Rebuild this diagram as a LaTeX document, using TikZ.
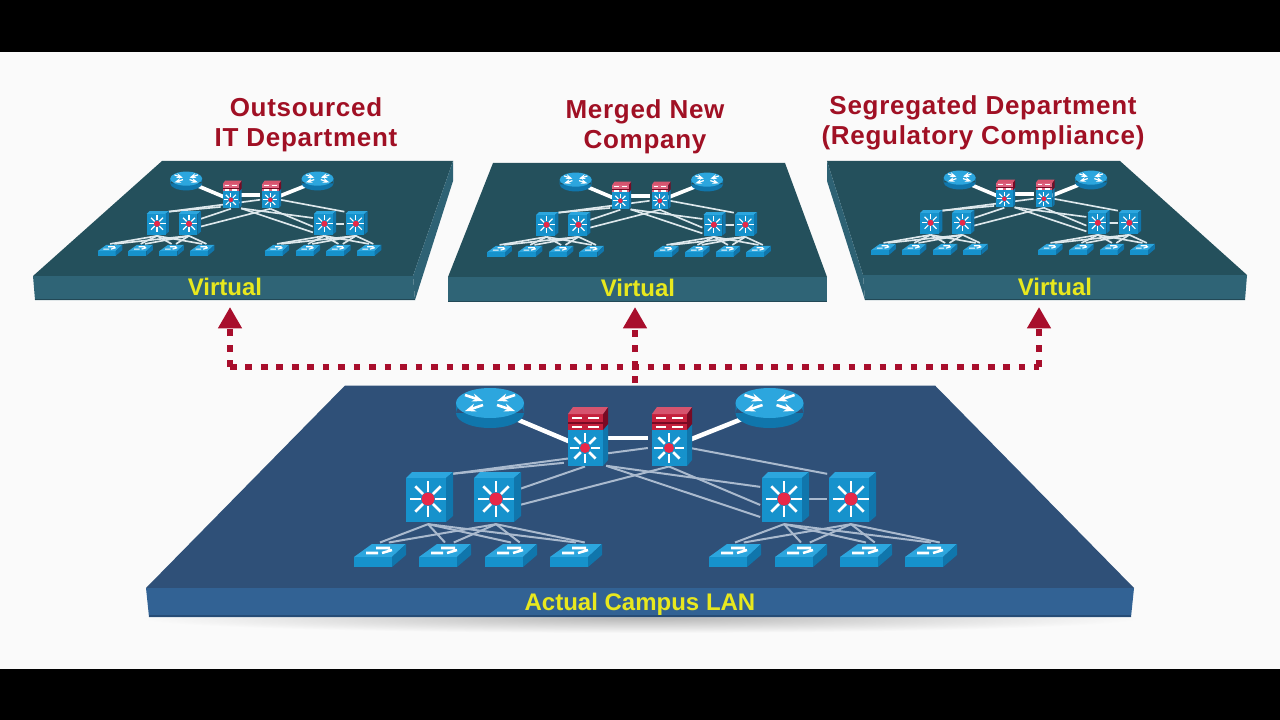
\documentclass[tikz,border=0pt]{standalone}
\usepackage{fontspec}
\setmainfont{Liberation Sans}
\usetikzlibrary{arrows.meta}

\definecolor{titlered}{RGB}{160,16,36}
\definecolor{dotred}{RGB}{168,14,44}
\definecolor{labelyellow}{RGB}{232,232,30}
\definecolor{bigtop}{RGB}{47,80,120}
\definecolor{bigfront}{RGB}{50,98,148}
\definecolor{bigedge}{RGB}{38,76,118}
\definecolor{vtop}{RGB}{36,80,92}
\definecolor{vfront}{RGB}{47,100,118}
\definecolor{vedge}{RGB}{34,72,86}
\definecolor{devtop}{RGB}{44,166,222}
\definecolor{devfront}{RGB}{22,146,204}
\definecolor{devside}{RGB}{16,118,172}
\definecolor{fwtop}{RGB}{214,84,110}
\definecolor{fwdark}{RGB}{120,10,36}
\definecolor{hubred}{RGB}{232,40,72}
\definecolor{biglink}{RGB}{170,186,206}
\definecolor{vlink}{RGB}{222,232,236}
\definecolor{bigwall}{RGB}{196,32,60}
\definecolor{vwall}{RGB}{222,100,128}

\tikzset{every picture/.style={line width=0.75pt}}
\tikzset{
	routerbox/.style={inner sep=0pt,minimum width=\ds*51pt,minimum height=\ds*30pt},
	corebox/.style={inner sep=0pt,minimum width=\ds*31pt,minimum height=\ds*27pt},
	distbox/.style={inner sep=0pt,minimum width=\ds*35pt,minimum height=\ds*37pt},
	accessbox/.style={inner sep=0pt,minimum width=\ds*39pt,minimum height=\ds*18pt},
	lanlink/.style={draw=\linkcol,line width=1pt+\ds*0.5pt},
	uplink/.style={draw=white,line width=2.2pt+\ds*1.2pt},
	spoke/.style={draw=white,line width=\ds*1.9pt},
	dotline/.style={draw=dotred,line width=5pt,dash pattern=on 5pt off 6.6pt},
	dothead/.style={-{Triangle[length=16pt,width=17pt]}},
	place/.style={font=\fontsize{18}{21}\selectfont\bfseries,text=labelyellow},
	headline/.style={font=\fontsize{19.5}{22.5}\selectfont\bfseries\addfontfeature{LetterSpace=2.8},text=titlered,align=center},
	routericon/.pic={
		\fill[devside] (-34,-5) rectangle (34,5) (0,5) ellipse [x radius=34,y radius=15];
		\fill[devtop] (0,-5) ellipse [x radius=34,y radius=15];
		\draw[spoke,-{Stealth[scale=.7]}] (-25,-13) -- (-7,-7);
		\draw[spoke,-{Stealth[scale=.7]}] (25,-13) -- (7,-7);
		\draw[spoke,-{Stealth[scale=.7]}] (-7,-3) -- (-25,3);
		\draw[spoke,-{Stealth[scale=.7]}] (7,-3) -- (25,3);
	},
	coreicon/.pic={
		\fill[devside] (18,-18) -- (23,-24) -- (23,12) -- (18,18) -- cycle;
		\fill[devfront] (-17,-18) rectangle (18,18);
		\foreach \ang in {0,45,...,315} \draw[spoke] (\ang:6) -- (\ang:15);
		\fill[hubred] (0,0) circle (5);
		% firewall on top
		\fill[fwdark] (18,-18) -- (23,-24) -- (23,-41) -- (18,-34) -- cycle;
		\fill[\fwcol] (-17,-18) rectangle (18,-34);
		\fill[fwtop] (-17,-34) -- (18,-34) -- (23,-41) -- (-12,-41) -- cycle;
		\draw[fwdark,line width=\ds*1.5pt] (-17,-25) -- (18,-25);
		\draw[spoke] (-13,-30) -- (-3,-30) (3,-30) -- (14,-30) (-13,-21) -- (-3,-21) (3,-21) -- (14,-21);
	},
	disticon/.pic={
		\fill[devtop] (-22,-21) -- (18,-21) -- (25,-27) -- (-16,-27) -- cycle;
		\fill[devside] (18,-21) -- (25,-27) -- (25,17) -- (18,23) -- cycle;
		\fill[devfront] (-22,-21) rectangle (18,23);
		\foreach \ang in {0,45,...,315} \draw[spoke] (\ang:7) -- (\ang:18);
		\fill[hubred] (0,0) circle (6.5);
	},
	accessicon/.pic={
		\fill[devtop] (-26,2) -- (-8,-11) -- (26,-11) -- (12,2) -- cycle;
		\fill[devfront] (-26,2) rectangle (12,12);
		\fill[devside] (12,2) -- (26,-11) -- (26,0) -- (12,12) -- cycle;
		\draw[spoke] (-14,-2) -- (-2,-2) (-4,-7) -- (10,-7) (2,-2) -- (12,-5);
	},
}

% name, origin x, origin y, scale, access shift, link colour, firewall colour
\newcommand{\campusnet}[7]{%
	\begin{scope}[shift={(#2,#3)},scale=#4]
		\def\ds{#4}\def\linkcol{#6}\def\fwcol{#7}
		\node[routerbox] (#1r1) at (-140,0) {};
		\node[routerbox] (#1r2) at (139.5,0) {};
		\node[corebox] (#1c1) at (-45,40) {};
		\node[corebox] (#1c2) at (39,40) {};
		\node[distbox] (#1d1) at (-202,91) {};
		\node[distbox] (#1d2) at (-134,91) {};
		\node[distbox] (#1d3) at (154,91) {};
		\node[distbox] (#1d4) at (221,91) {};
		\foreach \an/\ax in {a1/-250,a2/-185,a3/-119,a4/-54,a5/105,a6/171,a7/236,a8/301}
			\node[accessbox] (#1\an) at (\ax+#5,147) {};
		%Links to the access layer
		\foreach \an in {a1,a2,a3,a4} {
			\draw[lanlink] (#1d1.south) -- (#1\an.north);
			\draw[lanlink] (#1d2.south) -- (#1\an.55);
		}
		\foreach \an in {a5,a6,a7,a8} {
			\draw[lanlink] (#1d3.south) -- (#1\an.north);
			\draw[lanlink] (#1d4.south) -- (#1\an.55);
		}
		%Links to the core
		\draw[lanlink] (#1d1.north east) -- (#1c1.215);
		\draw[lanlink] (#1d1.north east) -- (#1c2.west);
		\draw[lanlink] (#1d2.23) -- (#1c1.south);
		\draw[lanlink] (#1d2.346) -- (#1c2.south);
		\draw[lanlink] (#1c1.320) -- (#1d3.153);
		\draw[lanlink] (#1c1.320) -- (#1d3.217);
		\draw[lanlink] (#1c2.south) -- (#1d3.194);
		\draw[lanlink] (#1c2.east) -- (#1d4.north west);
		\draw[lanlink] (#1d3.east) -- (#1d4.west);
		%Thick links
		\draw[uplink] (#1r1.center) -- (#1c1.center);
		\draw[uplink] (#1r2.center) -- (#1c2.center);
		\draw[uplink] (#1c1.25) -- (#1c2.155);
		%Devices
		\pic[transform shape] at (#1r1) {routericon};
		\pic[transform shape] at (#1r2) {routericon};
		\pic[transform shape] at (#1c1) {coreicon};
		\pic[transform shape] at (#1c2) {coreicon};
		\foreach \dn in {d1,d2,d3,d4} \pic[transform shape] at (#1\dn) {disticon};
		\foreach \an in {a1,a2,a3,a4,a5,a6,a7,a8} \pic[transform shape] at (#1\an) {accessicon};
	\end{scope}%
}

\begin{document}
\begin{tikzpicture}[x=0.75pt,y=0.75pt,yscale=-1,xscale=1]
	\useasboundingbox (0,0) rectangle (1280,720);

	%Shape: Rectangle, page and bars
	\fill[black] (0,0) rectangle (1280,720);
	\fill[white!98!black] (0,52) rectangle (1280,669);

	%Shape: Ellipse, shadow under the big slab
	\shade[inner color=black!28,outer color=white!98!black] (640,618) ellipse [x radius=500,y radius=15];

	%Shape: big slab
	\fill[bigtop] (345,385.5) -- (935,385.5) -- (1134,588) -- (146,588) -- cycle;
	\fill[bigfront] (146,588) -- (1134,588) -- (1131,617) -- (149,617) -- cycle;
	\draw[bigedge,line width=1.2pt] (149,616) -- (1131,616);

	%Shape: left slab
	\fill[vtop] (162,161) -- (453,161) -- (413,276) -- (33,276) -- cycle;
	\fill[vfront!90!vtop] (413,276) -- (453,161) -- (453,181) -- (415,300) -- cycle;
	\fill[vfront] (33,276) -- (413,276) -- (415,300) -- (35,300) -- cycle;
	\draw[vedge,line width=1.2pt] (35,299.5) -- (415,299.5);

	%Shape: middle slab
	\fill[vtop] (493,163) -- (785,163) -- (827,277) -- (448,277) -- cycle;
	\fill[vfront] (448,277) -- (827,277) -- (827,302) -- (448,302) -- cycle;
	\draw[vedge,line width=1.2pt] (448,301.5) -- (827,301.5);

	%Shape: right slab
	\fill[vtop] (827,161) -- (1120,161) -- (1247,275) -- (863,275) -- cycle;
	\fill[vfront!90!vtop] (827,161) -- (863,275) -- (865,300) -- (827,181) -- cycle;
	\fill[vfront] (863,275) -- (1247,275) -- (1245,300) -- (865,300) -- cycle;
	\draw[vedge,line width=1.2pt] (865,299.5) -- (1245,299.5);

	%The four networks
	\campusnet{big}{630}{408}{1}{0}{biglink}{bigwall}
	\campusnet{la}{252}{181}{0.47}{-52}{vlink}{vwall}
	\campusnet{mi}{641.5}{182}{0.47}{-52}{vlink}{vwall}
	\campusnet{ri}{1025.5}{180}{0.47}{-52}{vlink}{vwall}

	%Dotted arrows
	\coordinate (busL) at (230,367);
	\coordinate (busR) at (1039,367);
	\coordinate (busM) at (635,383);
	\coordinate (tipL) at (230,307);
	\coordinate (tipM) at (635,307);
	\coordinate (tipR) at (1039,307);
	\draw[dotline] (busL) -- (busR);
	\draw[dotline,dothead] (busL) -- (tipL);
	\draw[dotline,dothead] (busM) -- (tipM);
	\draw[dotline,dothead] (busR) -- (tipR);

	% Text Node
	\node[headline] (headL) at (306,125) {Outsourced\\IT Department};
	% Text Node
	\node[headline] (headM) at (645,127) {Merged New\\Company};
	% Text Node
	\node[headline] (headR) at (983,123) {Segregated Department\\(Regulatory Compliance)};
	% Text Node
	\node[place] (placeL) at (225,287) {Virtual};
	% Text Node
	\node[place] (placeM) at (638,288) {Virtual};
	% Text Node
	\node[place] (placeR) at (1055,287) {Virtual};
	% Text Node
	\node[place] (placeB) at (640,604) {Actual Campus LAN};
\end{tikzpicture}
\end{document}
